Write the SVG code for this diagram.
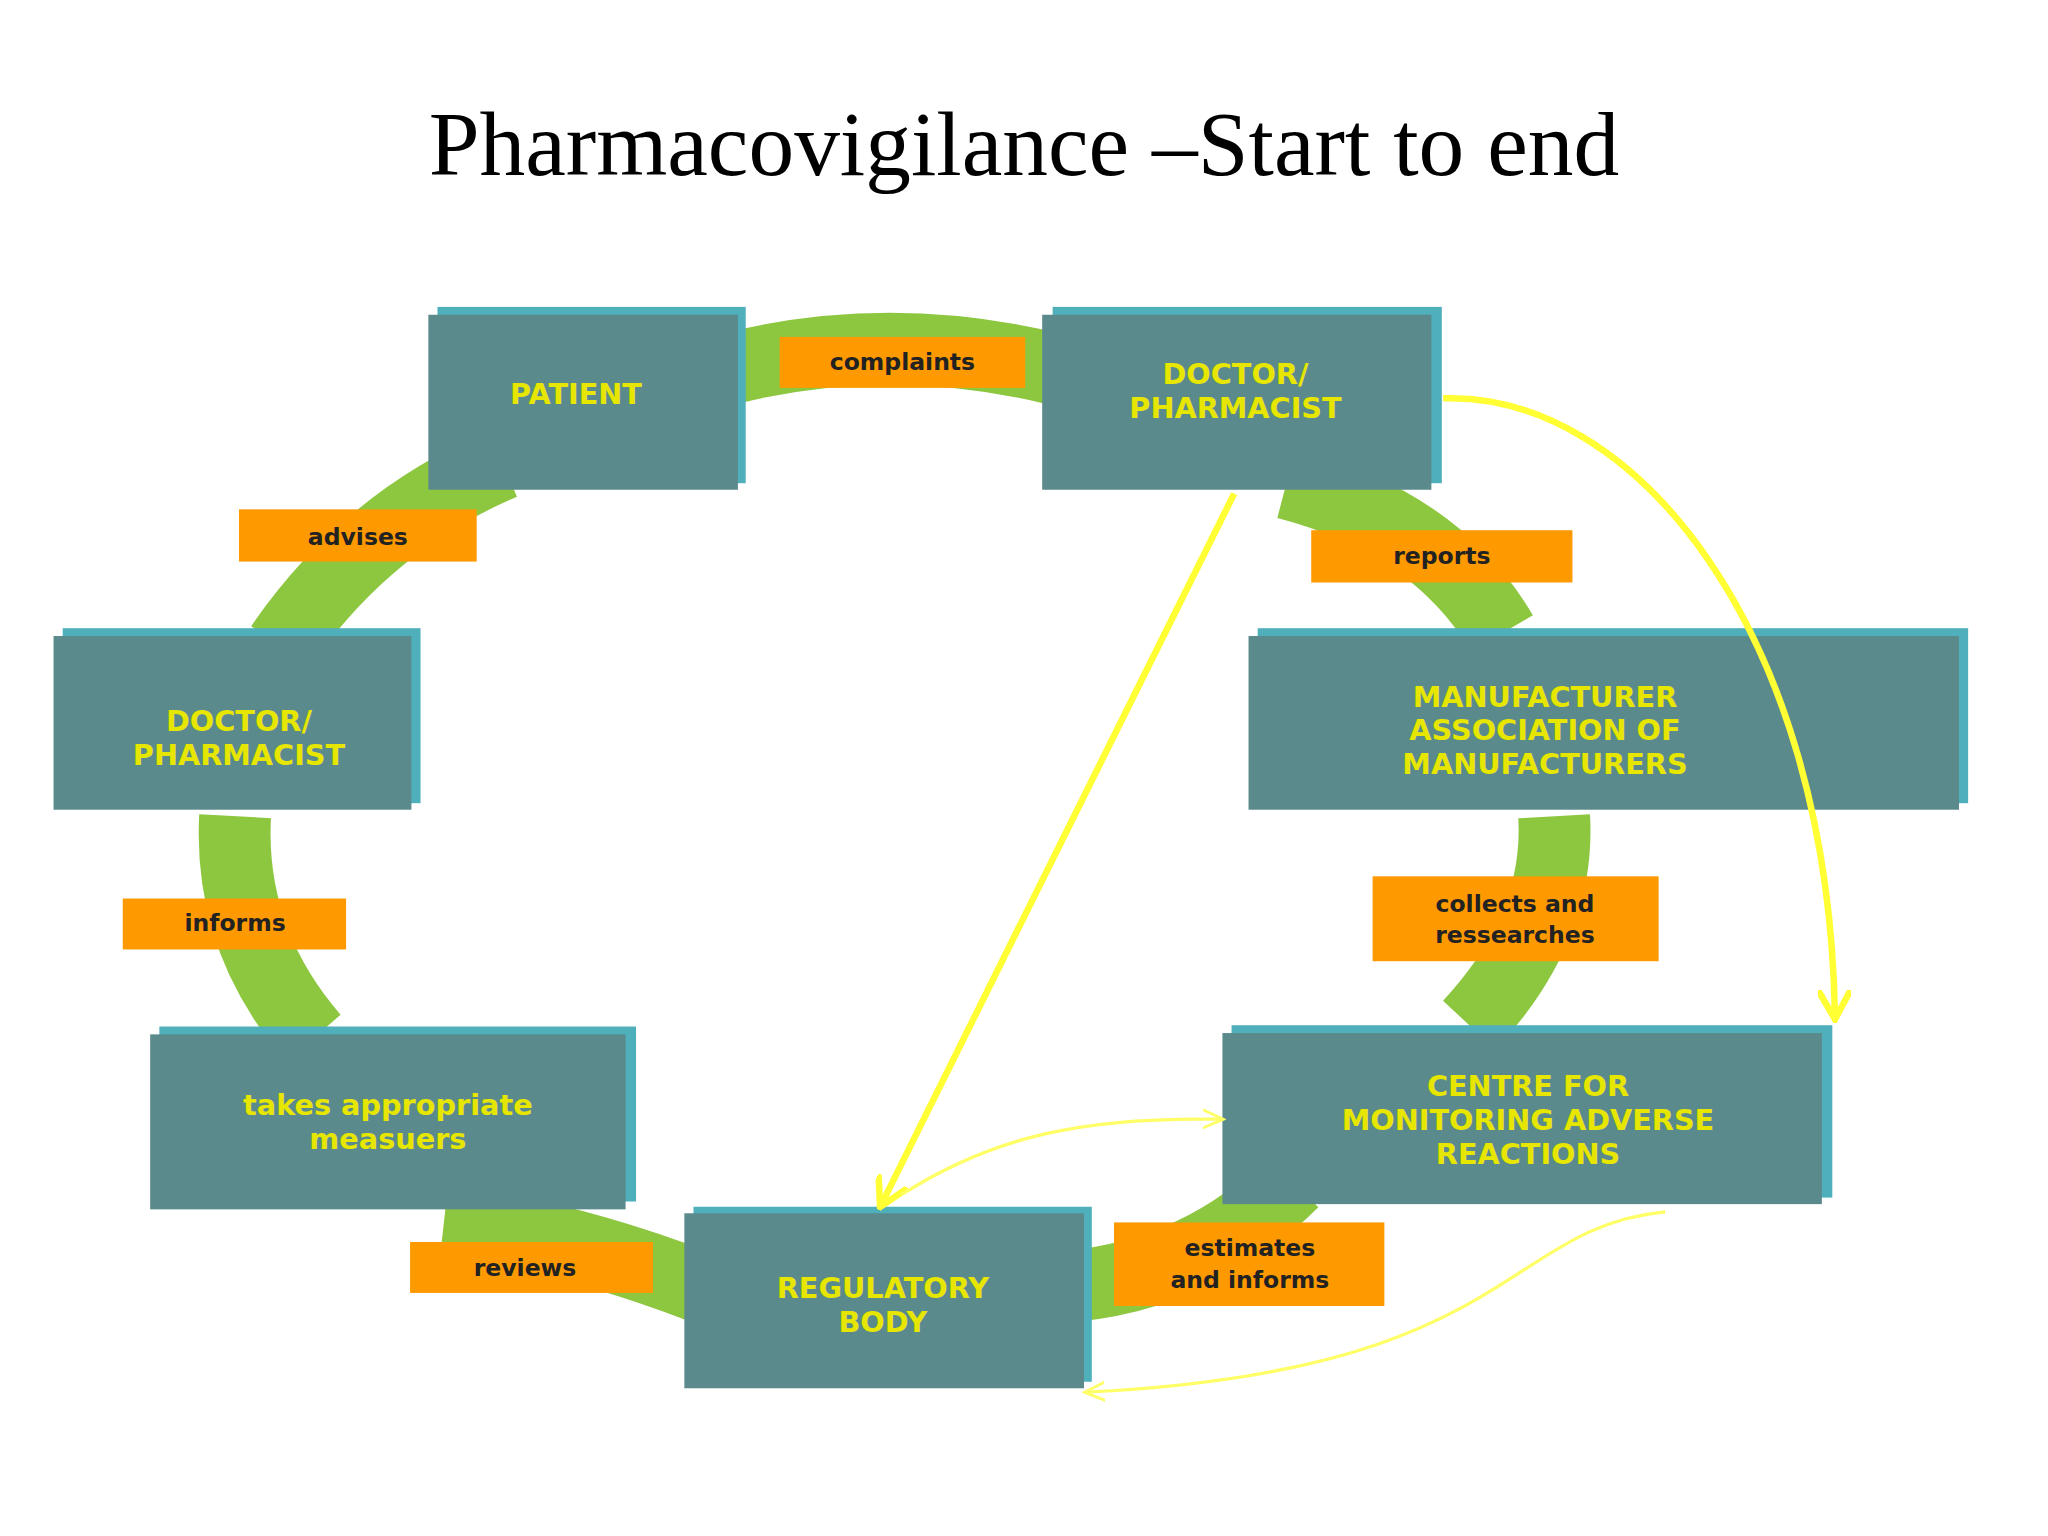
<svg xmlns="http://www.w3.org/2000/svg" width="2048" height="1536" viewBox="0 0 2048 1536">
<style>
.box{fill:#5b8a8c}
.edge{fill:#4fb0bc}
.arc{fill:none;stroke:#8dc63f;stroke-width:55}
.lab{fill:#ff9900}
.lt{font-family:"DejaVu Sans",sans-serif;font-weight:bold;font-size:18px;fill:#222;text-anchor:middle}
.nt{font-family:"DejaVu Sans",sans-serif;font-weight:bold;font-size:22px;fill:#e6e600;text-anchor:middle}
.ya{fill:none;stroke:#ffff33;stroke-width:5}
.yt{fill:none;stroke:#ffff66;stroke-width:2.5}
</style>
<defs>
<marker id="ah" viewBox="0 0 10 10" refX="8" refY="5" markerWidth="5" markerHeight="5" orient="auto"><path d="M0,0 L9,5 L0,10" fill="none" stroke="#ffff33" stroke-width="2"/></marker>
<marker id="ah2" viewBox="0 0 10 10" refX="8" refY="5" markerWidth="7" markerHeight="7" orient="auto"><path d="M0,1 L9,5 L0,9" fill="none" stroke="#ffff66" stroke-width="1.2"/></marker>
</defs>
<rect width="2048" height="1536" fill="#fff"/>
<g transform="scale(1.306)">
<text x="784" y="134" font-family="Liberation Serif, serif" font-size="70" text-anchor="middle">Pharmacovigilance –Start to end</text>
<g id="connectors">
<path class="arc" d="M560,282 Q680,252 805,282"/>
<path class="arc" d="M385,355 Q280,400 215,495"/>
<path class="arc" d="M180,625 Q175,720 240,795"/>
<path class="arc" d="M340,935 Q430,945 535,985"/>
<path class="arc" d="M820,985 Q920,975 990,905"/>
<path class="arc" d="M1125,785 Q1195,710 1190,625"/>
<path class="arc" d="M985,370 Q1100,400 1150,485"/>
<rect class="lab" x="597" y="258" width="188" height="39"/><text class="lt" x="691" y="283">complaints</text>
<rect class="lab" x="183" y="390" width="182" height="40"/><text class="lt" x="274" y="417">advises</text>
<rect class="lab" x="1004" y="406" width="200" height="40"/><text class="lt" x="1104" y="432">reports</text>
<rect class="lab" x="94" y="688" width="171" height="39"/><text class="lt" x="180" y="713">informs</text>
<rect class="lab" x="1051" y="671" width="219" height="65"/><text class="lt" x="1160" y="698">collects and</text><text class="lt" x="1160" y="722">ressearches</text>
<rect class="lab" x="314" y="951" width="186" height="39"/><text class="lt" x="402" y="977">reviews</text>
<rect class="lab" x="853" y="936" width="207" height="64"/><text class="lt" x="957" y="962">estimates</text><text class="lt" x="957" y="986">and informs</text>
</g>
<g id="patient"><rect class="edge" x="335" y="235" width="236" height="135"/><rect class="box" x="328" y="241" width="237" height="134"/><text class="nt" x="441" y="309">PATIENT</text></g>
<g id="doctor1"><rect class="edge" x="806" y="235" width="298" height="135"/><rect class="box" x="798" y="241" width="298" height="134"/><text class="nt" x="946" y="294">DOCTOR/</text><text class="nt" x="946" y="320">PHARMACIST</text></g>
<g id="doctor2"><rect class="edge" x="48" y="481" width="274" height="134"/><rect class="box" x="41" y="487" width="274" height="133"/><text class="nt" x="183" y="560">DOCTOR/</text><text class="nt" x="183" y="586">PHARMACIST</text></g>
<g id="manufacturer"><rect class="edge" x="963" y="481" width="544" height="134"/><rect class="box" x="956" y="487" width="544" height="133"/><text class="nt" x="1183" y="541">MANUFACTURER</text><text class="nt" x="1183" y="567">ASSOCIATION OF</text><text class="nt" x="1183" y="593">MANUFACTURERS</text></g>
<g id="measures"><rect class="edge" x="122" y="786" width="365" height="134"/><rect class="box" x="115" y="792" width="364" height="134"/><text class="nt" x="297" y="854">takes appropriate</text><text class="nt" x="297" y="880">measuers</text></g>
<g id="centre"><rect class="edge" x="943" y="785" width="460" height="132"/><rect class="box" x="936" y="791" width="459" height="131"/><text class="nt" x="1170" y="839">CENTRE FOR</text><text class="nt" x="1170" y="865">MONITORING ADVERSE</text><text class="nt" x="1170" y="891">REACTIONS</text></g>
<g id="regulatory"><rect class="edge" x="531" y="924" width="305" height="134"/><rect class="box" x="524" y="929" width="306" height="134"/><text class="nt" x="676" y="994">REGULATORY</text><text class="nt" x="676" y="1020">BODY</text></g>
<g id="yellow-arrows">
<path class="ya" d="M945,378 L675,922" marker-end="url(#ah)"/>
<path class="ya" d="M1105,305 C1250,300 1400,480 1405,778" marker-end="url(#ah)"/>
<path class="yt" d="M690,915 C760,870 830,855 935,857" marker-end="url(#ah2)"/>
<path class="yt" d="M1275,928 C1150,940 1160,1050 832,1066" marker-end="url(#ah2)"/>
</g>
</g>
</svg>
